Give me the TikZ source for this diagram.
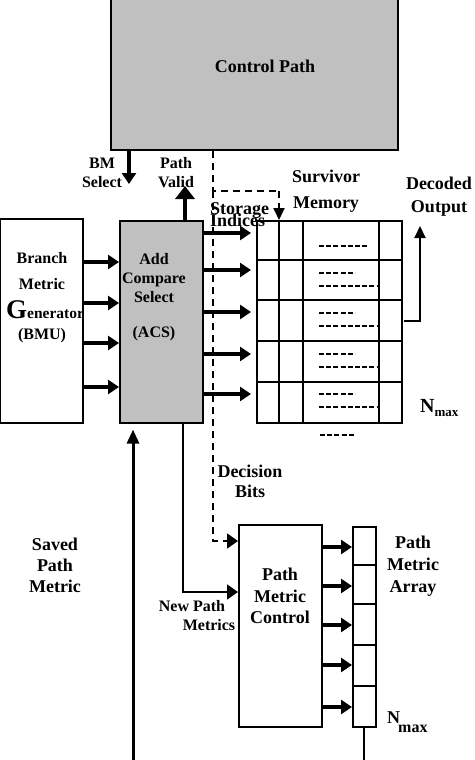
\documentclass[tikz,border=0pt]{standalone}
\usepackage{fontspec}
\setmainfont{Liberation Serif}
\usetikzlibrary{arrows.meta}
\definecolor{boxgray}{RGB}{192,192,192}
\tikzset{
  blk/.style={draw, line width=1.6pt, inner sep=0pt},
  big/.style={font=\bfseries\fontsize{18}{22}\selectfont, align=center, inner sep=0pt},
  small/.style={font=\bfseries\fontsize{16}{19}\selectfont, align=center, inner sep=0pt},
  fat/.style={line width=3.5pt, -{Triangle[length=11pt,width=14pt]}},
  fatter/.style={line width=4.5pt, -{Triangle[length=13pt,width=19pt]}},
  thinarr/.style={line width=1.8pt, -{Triangle[length=11pt,width=15pt]}},
  dsh/.style={line width=1.8pt, dash pattern=on 7pt off 5pt},
  gridline/.style={line width=1.6pt},
  memdash/.style={line width=1.3pt, dash pattern=on 5pt off 2.2pt},
}
\begin{document}
\begin{tikzpicture}[x=1pt,y=-1pt]
\useasboundingbox (0,0) rectangle (474,760);
% boxes
\node[blk, fill=boxgray, minimum width=287pt, minimum height=156pt, anchor=south west] (cp) at (110,151) {};
\node[blk, minimum width=83pt, minimum height=204pt, anchor=north west] (bmu) at (-1,218) {};
\node[blk, fill=boxgray, minimum width=83pt, minimum height=202pt, anchor=north west] (acs) at (119,220) {};
\node[blk, minimum width=145pt, minimum height=202pt, anchor=north west] (mem) at (256,220) {};
\node[blk, minimum width=83pt, minimum height=202pt, anchor=north west] (pmc) at (238,524) {};
\node[blk, minimum width=23pt, minimum height=200pt, anchor=north west] (pma) at (352,526) {};
% memory grid
\foreach \xx in {279,303,379} \draw[gridline] (mem.north -| \xx,0) -- (mem.south -| \xx,0);
\foreach \yy in {260,300,341,382} \draw[gridline] (mem.west |- 0,\yy) -- (mem.east |- 0,\yy);
% path metric array rows
\foreach \yy in {565,604,645,686} \draw[gridline] (pma.west |- 0,\yy) -- (pma.east |- 0,\yy);
% dashes in memory
\draw[memdash] (319,246) -- (368,246);
\foreach \yy in {273,313,354,394} {
  \draw[memdash] (319,\yy) -- (355,\yy);
  \draw[memdash] (319,\yy+13) -- (378,\yy+13);
}
\draw[memdash] (320,435) -- (355,435);
% BMU -> ACS
\foreach \yy in {262,303,343,387} \draw[fat] (bmu.east |- 0,\yy) -- (acs.west |- 0,\yy);
% ACS -> memory
\foreach \yy in {233,270,312,354,394} \draw[fat, shorten >=5pt] (acs.east |- 0,\yy) -- (mem.west |- 0,\yy);
% PMC -> array
\foreach \yy in {547,586,625,665,707} \draw[fat] (pmc.east |- 0,\yy) -- (pma.west |- 0,\yy);
% control signals
\coordinate (bmtip) at (129,184);
\coordinate (pvtip) at (185,186);
\draw[fat] (cp.south -| bmtip) -- (bmtip);
\draw[fatter] (acs.north -| pvtip) -- (pvtip);
\coordinate (dk1) at (213,191);
\coordinate (dk2) at (279,191);
\coordinate (dk3) at (213,541);
\draw[dsh] (cp.south -| dk1) -- (dk1) -- (dk2);
\draw[dsh, -{Triangle[length=12pt,width=11pt]}] (dk2) -- (mem.north -| dk2);
\draw[dsh, -{Triangle[length=11pt,width=15pt]}] (dk1) -- (dk3) -- (pmc.west |- dk3);
% ACS -> PMC (new path metrics)
\coordinate (np1) at (183,592);
\draw[thinarr] (acs.south -| np1) -- (np1) -- (pmc.west |- np1);
% saved path metric
\coordinate (sv) at (133,762);
\draw[line width=3pt, -{Triangle[length=14pt,width=12pt]}, shorten >=6pt] (sv) -- (acs.south -| sv);
% array bottom
\coordinate (ab) at (364,762);
\draw[line width=1.5pt] (pma.south -| ab) -- (ab);
% decoded output
\coordinate (do1) at (404,321);
\coordinate (do2) at (420,321);
\coordinate (dotip) at (420,226);
\draw[line width=2pt, -{Triangle[length=12pt,width=11pt]}] (do1) -- (do2) -- (dotip);
% labels
\node[big] (cptxt) at (265,66) {Control Path};
\node[small] (bmsel) at (102,173) {BM\\Select};
\node[small] (pval) at (176,173) {Path\\Valid};
\node[big, font=\bfseries\fontsize{18}{26}\selectfont] (survlbl) at (326,191) {Survivor\\Memory};
\node[big, font=\bfseries\fontsize{18}{23}\selectfont] (declbl) at (439,197) {Decoded\\Output};
\node[big, anchor=base west] (stor1) at (210,214) {Storage};
\node[big, anchor=base west] (stor2) at (210,226) {Indices};
\node[small, font=\bfseries\fontsize{16}{26}\selectfont] (branchlbl) at (42,271) {Branch\\Metric};
\node[inner sep=0pt, anchor=base west, font=\bfseries] (gen) at (6,318) {{\fontsize{27}{27}\selectfont G}{\fontsize{15.5}{18}\selectfont enerator}};
\node[small] (bmulbl) at (42,336) {(BMU)};
\node[small] (acslbl) at (154,278) {Add\\Compare\\Select};
\node[small] (acs2) at (154,334) {(ACS)};
\node[big, font=\bfseries\fontsize{18}{20}\selectfont] (dbits) at (250,481) {Decision\\Bits};
\node[big, font=\bfseries\fontsize{18}{21.5}\selectfont] (pmclbl) at (280,596) {Path\\Metric\\Control};
\node[small] (newpath) at (192,606) {New Path};
\node[small] (metrics) at (209,625) {Metrics};
\node[big] (pmalbl) at (413,566) {Path\\Metric\\Array};
\node[big, font=\bfseries\fontsize{18}{21}\selectfont] (savedlbl) at (55,565) {Saved\\Path\\Metric};
\node[inner sep=0pt, anchor=base west, font=\bfseries] (nmax1) at (420,412) {{\fontsize{20}{20}\selectfont N}\raisebox{-4pt}{\fontsize{13}{13}\selectfont max}};
\node[inner sep=0pt, anchor=base west, font=\bfseries] (nmax2) at (387,723) {{\fontsize{18}{18}\selectfont N}\kern-2pt\raisebox{-9pt}{\fontsize{16}{16}\selectfont max}};
\end{tikzpicture}
\end{document}
